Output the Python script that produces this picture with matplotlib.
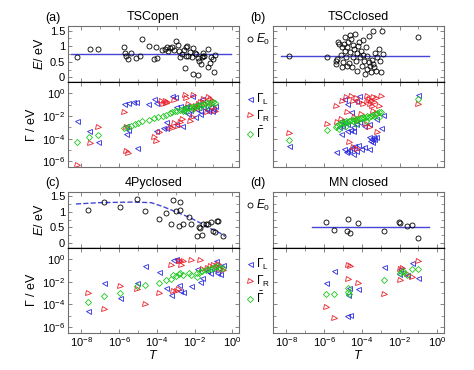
import numpy as np
import matplotlib
matplotlib.use('Agg')
import matplotlib.pyplot as plt
from matplotlib.ticker import FixedLocator, NullFormatter, FuncFormatter

plt.rcParams['font.family'] = ['Liberation Sans', 'DejaVu Sans']
plt.rcParams['mathtext.fontset'] = 'custom'
plt.rcParams['mathtext.rm'] = 'Liberation Sans'
plt.rcParams['mathtext.it'] = 'Liberation Sans:italic'
plt.rcParams['font.size'] = 8

# data: columns are log10(T) and value (E in eV, or log10(Gamma/eV))
titles = ['TSCopen', 'TSCclosed', '4Pyclosed', 'MN closed']
tags = ['(a)', '(b)', '(c)', '(d)']

# (a) TSCopen
a_E = np.array([[-8.23, 0.65], [-7.53, 0.90], [-7.09, 0.90], [-5.74, 0.96], [-5.69, 0.77], [-5.62, 0.67],
                [-5.55, 0.60], [-5.35, 0.77], [-5.09, 0.62], [-4.87, 0.67], [-4.77, 1.22], [-4.41, 1.0],
                [-4.17, 0.60], [-4.06, 0.97], [-3.99, 0.62], [-3.70, 0.89], [-3.54, 0.92], [-3.46, 0.96],
                [-3.40, 0.86], [-3.28, 0.94], [-3.17, 0.99], [-3.10, 0.88], [-2.96, 1.16], [-2.87, 1.05],
                [-2.82, 0.84], [-2.75, 0.64], [-2.69, 0.75], [-2.57, 0.88], [-2.52, 0.30], [-2.46, 0.67],
                [-2.43, 0.99], [-2.39, 1.02], [-2.34, 0.70], [-2.25, 0.80], [-2.16, 0.64], [-2.07, 0.94],
                [-2.07, 0.11], [-2.00, 0.79], [-1.84, 0.09], [-1.90, 0.75], [-1.81, 0.62], [-1.75, 0.51],
                [-1.68, 0.43], [-1.63, 0.64], [-1.58, 0.77], [-1.54, 0.70], [-1.51, 0.67], [-1.28, 0.91],
                [-1.28, 0.32], [-1.19, 0.45], [-1.15, 0.64], [-1.04, 0.59], [-0.97, 0.18], [-0.94, 0.72]])
a_fit = np.array([[-8.56, 0.75], [-0.08, 0.75]])
a_GL = np.array([[-8.23, -2.41], [-7.57, -3.35], [-7.09, -4.32], [-5.71, -0.94], [-5.53, -0.82], [-5.26, -0.79],
                 [-5.09, -0.73], [-4.47, -0.94], [-4.17, -0.5], [-4.06, -0.82], [-5.62, -2.85], [-5.53, -3.23],
                 [-5.65, -3.59], [-4.02, -3.29], [-5.05, -4.82], [-3.67, -3.06], [-3.49, -3.06], [-3.17, -0.21],
                 [-3.05, -0.29], [-2.96, -1.18], [-2.78, -1.09], [-2.60, -1.53], [-2.52, -1.24], [-2.43, -1.12],
                 [-2.34, -1.82], [-2.25, -1.47], [-2.16, -0.21], [-2.07, -1.24], [-1.90, -1.38], [-1.81, -0.94],
                 [-1.72, -1.59], [-1.63, -0.5], [-1.54, -1.18], [-1.40, -1.41], [-1.28, -1.53], [-1.19, -1.24],
                 [-1.10, -1.59], [-1.01, -1.38], [-0.92, -1.09], [-2.96, -2.70], [-2.69, -2.85], [-3.49, -2.56],
                 [-1.98, -2.12], [-1.72, -1.82]])
a_GR = np.array([[-8.23, -6.29], [-7.53, -4.35], [-7.09, -3.0], [-5.65, -3.0], [-5.62, -5.06], [-5.53, -5.29],
                 [-5.71, -1.68], [-4.17, -3.88], [-4.06, -4.23], [-3.88, -3.38], [-3.67, -0.94], [-3.58, -0.71],
                 [-3.49, -0.88], [-3.31, -3.0], [-3.22, -3.06], [-3.10, -2.65], [-3.10, -0.59], [-2.87, -2.85],
                 [-2.78, -2.56], [-2.69, -2.26], [-2.52, -0.12], [-2.43, -0.41], [-2.34, -0.94], [-2.25, -2.41],
                 [-2.16, -2.12], [-2.07, -0.12], [-1.98, -1.09], [-1.90, -1.38], [-1.81, -0.94], [-1.72, -0.79],
                 [-1.54, -0.5], [-1.45, -0.94], [-1.36, -1.68], [-1.28, -0.35], [-1.19, -0.5], [-1.10, -0.71],
                 [-1.01, -1.18], [-0.92, -1.53], [-3.76, -0.71], [-3.44, -0.79]])
a_G = np.array([[-8.23, -4.32], [-7.57, -3.88], [-7.09, -3.68], [-5.71, -3.06], [-5.53, -2.94], [-5.35, -2.85],
                [-5.18, -2.70], [-5.0, -2.62], [-4.77, -2.47], [-4.41, -2.32], [-4.17, -2.18], [-3.93, -2.12],
                [-3.67, -1.97], [-3.49, -1.88], [-3.31, -1.76], [-3.17, -1.68], [-3.05, -1.59], [-2.92, -1.53],
                [-2.78, -1.47], [-2.64, -1.38], [-2.52, -1.38], [-2.39, -1.32], [-2.29, -1.24], [-2.16, -1.18],
                [-2.04, -1.18], [-1.93, -1.09], [-1.81, -1.03], [-1.68, -1.0], [-1.54, -0.94], [-1.40, -0.88],
                [-1.28, -0.85], [-1.15, -0.82], [-1.01, -0.79], [-0.92, -0.88], [-2.60, -1.59], [-2.43, -1.53],
                [-2.07, -1.38], [-1.72, -1.24], [-1.36, -1.09]])

# (b) TSCclosed
b_E = np.array([[-7.83, 0.70], [-5.86, 0.64], [-1.00, 1.29], [-5.29, 0.59], [-5.24, 1.13], [-5.20, 1.07],
                [-5.38, 0.43], [-5.35, 0.51], [-5.11, 0.73], [-5.06, 0.96], [-5.03, 0.32], [-4.99, 0.48],
                [-4.94, 1.07], [-4.88, 0.86], [-4.85, 0.64], [-4.81, 0.37], [-4.76, 0.99], [-4.71, 1.13],
                [-4.67, 0.45], [-4.64, 0.80], [-4.58, 1.23], [-4.53, 0.32], [-4.49, 0.66], [-4.46, 1.05],
                [-4.41, 0.91], [-4.35, 1.39], [-4.32, 0.51], [-4.28, 0.77], [-4.23, 0.21], [-4.18, 1.01],
                [-4.14, 1.13], [-4.11, 0.64], [-4.05, 0.86], [-4.00, 0.37], [-3.96, 0.73], [-3.93, 1.20],
                [-3.87, 0.54], [-3.82, 0.11], [-3.79, 0.96], [-3.73, 0.27], [-3.70, 0.70], [-3.64, 1.34],
                [-3.61, 0.48], [-3.57, 0.37], [-3.52, 0.16], [-3.47, 0.56], [-3.43, 1.50], [-3.40, 0.43],
                [-3.34, 0.32], [-3.29, 0.77], [-3.25, 0.21], [-3.17, 0.64], [-3.08, 0.91], [-3.04, 0.54],
                [-2.99, 0.16], [-2.93, 1.50], [-2.90, 0.75], [-4.62, 1.37], [-4.88, 1.29]])
b_fit = np.array([[-8.29, 0.70], [-0.46, 0.70]])
b_GL = np.array([[-7.83, -4.68], [-1.00, -0.12], [-5.38, -5.21], [-5.11, -3.59], [-4.94, -4.91], [-4.85, -5.15],
                 [-4.76, -5.06], [-4.67, -5.0], [-4.58, -4.82], [-4.49, -5.35], [-4.41, -4.62], [-4.32, -5.06],
                 [-4.18, -4.53], [-4.05, -4.91], [-3.87, -4.76], [-3.61, -3.88], [-3.52, -4.03], [-3.43, -3.82],
                 [-3.34, -4.03], [-3.57, -4.18], [-3.47, -4.32], [-3.25, -3.88], [-3.64, -4.91], [-5.20, -3.0],
                 [-5.03, -2.85], [-4.94, -0.5], [-4.76, -0.94], [-4.58, -1.68], [-4.32, -0.65], [-4.14, -0.21],
                 [-5.11, -2.41], [-4.94, -2.56], [-4.76, -2.70], [-4.49, -3.0], [-4.32, -2.70], [-4.14, -2.56],
                 [-3.87, -2.85], [-3.61, -2.70], [-3.25, -2.26], [-2.99, -3.06], [-2.90, -1.88], [-4.81, -3.29],
                 [-4.64, -3.23], [-4.46, -3.35]])
b_GR = np.array([[-7.83, -3.53], [-1.00, -0.94], [-5.38, -1.09], [-5.86, -2.70], [-5.03, -0.65], [-4.85, -0.35],
                 [-4.58, -0.21], [-4.49, -0.65], [-4.32, -0.41], [-4.14, -0.79], [-3.96, -0.94], [-3.70, -0.21],
                 [-3.61, -0.5], [-3.52, -0.65], [-3.43, -0.35], [-3.34, -0.79], [-3.25, -0.41], [-3.57, -0.94],
                 [-3.47, -1.09], [-3.70, -0.71], [-2.99, -0.21], [-3.08, -1.09], [-3.79, -2.70], [-3.61, -3.0],
                 [-5.29, -2.56], [-5.11, -2.26], [-4.76, -1.68], [-4.41, -2.12], [-4.23, -2.41], [-4.05, -1.82],
                 [-3.17, -3.44], [-3.43, -1.53], [-3.25, -1.82], [-4.49, -4.76], [-4.23, -4.91], [-4.67, -4.32]])
b_G = np.array([[-7.83, -4.12], [-1.00, -0.53], [-5.86, -3.23], [-5.38, -3.0], [-5.29, -2.85], [-5.20, -2.70],
                [-5.11, -2.65], [-5.03, -2.56], [-4.94, -2.65], [-4.85, -2.47], [-4.76, -2.56], [-4.67, -2.41],
                [-4.58, -2.35], [-4.49, -2.47], [-4.41, -2.26], [-4.32, -2.35], [-4.23, -2.23], [-4.14, -2.29],
                [-4.05, -2.18], [-3.96, -2.12], [-3.87, -2.21], [-3.79, -2.06], [-3.70, -2.0], [-3.61, -2.12],
                [-3.52, -1.97], [-3.43, -1.88], [-3.34, -1.97], [-3.25, -1.82], [-3.17, -1.76], [-3.08, -1.68],
                [-2.99, -1.62], [-3.11, -2.12], [-5.20, -3.15], [-4.85, -2.85], [-4.32, -2.70], [-3.79, -2.41]])

# (c) 4Pyclosed
c_E = np.array([[-7.66, 1.07], [-6.81, 1.31], [-5.97, 1.17], [-5.03, 1.43], [-4.61, 1.02], [-3.90, 0.78],
                [-3.51, 0.96], [-3.26, 0.61], [-3.14, 1.38], [-2.96, 1.03], [-2.85, 0.55], [-2.78, 1.33],
                [-2.78, 1.05], [-2.64, 0.61], [-2.30, 0.84], [-2.21, 0.61], [-1.86, 0.24], [-1.75, 0.53],
                [-1.72, 0.48], [-1.63, 0.27], [-1.58, 0.61], [-1.40, 0.60], [-1.28, 0.60], [-1.15, 0.67],
                [-1.01, 0.40], [-0.92, 0.34], [-0.80, 0.71], [-0.74, 0.71], [-0.48, 0.22]])
c_fit = np.array([[-8.28, 1.255], [-7.04, 1.297], [-5.26, 1.317], [-4.29, 1.297], [-3.67, 1.17], [-2.96, 0.995],
                  [-2.25, 0.818], [-1.72, 0.652], [-1.19, 0.475], [-0.65, 0.319], [-0.39, 0.215]])
c_GL = np.array([[-7.66, -4.58], [-6.81, -2.09], [-5.97, -3.47], [-5.03, -2.09], [-4.61, -0.61], [-3.90, -1.14],
                 [-3.51, -2.59], [-3.26, -3.17], [-3.14, -0.09], [-2.96, -0.03], [-2.85, -2.32], [-2.78, -2.82],
                 [-2.64, -2.91], [-2.21, -2.38], [-1.86, -0.85], [-1.72, -2.03], [-1.63, -1.64], [-1.36, -1.06],
                 [-1.19, -1.26], [-1.01, -0.85], [-0.87, -0.17], [-0.80, -1.26], [-0.65, -1.35], [-0.48, -0.56],
                 [-0.74, -0.76]])
c_GR = np.array([[-7.66, -2.97], [-6.81, -4.44], [-5.97, -2.38], [-5.03, -2.67], [-4.61, -4.0], [-3.90, -3.03],
                 [-3.26, -0.56], [-3.14, -2.82], [-2.96, -2.82], [-2.85, -0.17], [-2.78, -0.17], [-2.64, -0.17],
                 [-2.21, -0.09], [-1.72, -0.09], [-1.63, -0.91], [-1.36, -0.76], [-1.19, -0.61], [-1.01, -0.56],
                 [-0.87, -0.61], [-0.74, -0.47], [-0.65, -0.85], [-0.48, -0.97], [-2.73, -0.56], [-2.87, -2.67]])
c_G = np.array([[-7.66, -3.76], [-6.81, -3.26], [-5.97, -2.97], [-5.03, -2.38], [-4.61, -2.32], [-3.90, -2.14],
                [-3.51, -1.85], [-3.26, -1.79], [-3.14, -1.44], [-2.96, -1.50], [-2.85, -1.35], [-2.78, -1.26],
                [-2.64, -1.44], [-2.30, -1.26], [-2.21, -1.44], [-1.86, -1.26], [-1.72, -1.14], [-1.63, -1.06],
                [-1.40, -0.97], [-1.28, -0.91], [-1.15, -0.85], [-1.01, -0.76], [-0.92, -0.67], [-0.80, -0.61],
                [-0.65, -0.76], [-0.48, -0.76], [-1.86, -1.56]])

# (d) MN closed
d_E = np.array([[-5.88, 0.683], [-5.47, 0.423], [-4.71, 0.787], [-4.76, 0.371], [-4.62, 0.319], [-4.20, 0.631],
                [-2.85, 0.371], [-2.03, 0.683], [-1.98, 0.631], [-1.63, 0.548], [-1.36, 0.569], [-1.04, 0.163]])
d_fit = np.array([[-6.63, 0.506], [-0.47, 0.506]])
d_GL = np.array([[-5.92, -2.08], [-5.47, -1.06], [-4.71, -3.20], [-4.76, -5.03], [-4.62, -4.97], [-4.20, -2.61],
                 [-2.85, -0.67], [-1.98, -0.85], [-2.03, -1.35], [-1.63, -1.44], [-1.36, -0.38], [-1.04, -1.64],
                 [-4.67, -2.53]])
d_GR = np.array([[-5.92, -4.20], [-5.47, -5.23], [-4.71, -0.53], [-4.62, -0.61], [-4.71, -1.79], [-4.20, -2.08],
                 [-2.85, -3.06], [-1.98, -1.85], [-1.98, -0.91], [-1.63, -1.35], [-1.36, -1.56], [-1.04, -0.17],
                 [-1.89, -0.76]])
d_G = np.array([[-5.92, -3.12], [-5.47, -3.12], [-4.71, -2.53], [-4.71, -2.91], [-4.67, -3.12], [-2.85, -1.88],
                [-1.98, -1.26], [-1.80, -1.06], [-1.63, -1.44], [-1.36, -0.91], [-1.04, -0.91], [-1.89, -1.14]])

panels = [(a_E, a_fit, a_GL, a_GR, a_G, '-'),
          (b_E, b_fit, b_GL, b_GR, b_G, '-'),
          (c_E, c_fit, c_GL, c_GR, c_G, '--'),
          (d_E, d_fit, d_GL, d_GR, d_G, '-')]

blue = '#2a2ae0'
red = '#e8202a'
green = '#1ec81e'
line_blue = '#4646d8'
spine_col = '#707070'

fig = plt.figure(figsize=(4.74, 3.70), dpi=100)

lefts = [68/474, 273/474, 68/474, 273/474]
w = 171/474
E_bot = [1-82/370, 1-82/370, 1-247.7/370, 1-247.7/370]
G_bot = [1-167/370, 1-167/370, 1-332.7/370, 1-332.7/370]
E_h = 56/370
G_h = 85/370

xlim = (10**-8.7, 10**0.35)
ms = 3.6

def pow_fmt(v, pos):
    e = int(round(np.log10(v)))
    return r'$10^{%d}$' % e

for i, (E, fit, GL, GR, G, ls) in enumerate(panels):
    axE = fig.add_axes([lefts[i], E_bot[i], w, E_h])
    axG = fig.add_axes([lefts[i], G_bot[i], w, G_h])

    axE.plot(10**fit[:, 0], fit[:, 1], ls=ls, color=line_blue, lw=1.0, zorder=1)
    hE, = axE.plot(10**E[:, 0], E[:, 1], 'o', mfc='none', mec='black', mew=0.6, ms=ms, label=r'$E_0$', zorder=2)

    hL, = axG.plot(10**GL[:, 0], 10**GL[:, 1], '<', mfc='none', mec=blue, mew=0.6, ms=ms, label=r'$\Gamma_{\rm L}$')
    hR, = axG.plot(10**GR[:, 0], 10**GR[:, 1], '>', mfc='none', mec=red, mew=0.6, ms=ms, label=r'$\Gamma_{\rm R}$')
    hG, = axG.plot(10**G[:, 0], 10**G[:, 1], 'D', mfc='none', mec=green, mew=0.6, ms=3.1, label=r'$\bar{\Gamma}$')

    for ax in (axE, axG):
        ax.set_xscale('log')
        ax.set_xlim(xlim)
        ax.xaxis.set_major_locator(FixedLocator([1e-8, 1e-6, 1e-4, 1e-2, 1e0]))
        ax.xaxis.set_minor_locator(FixedLocator([1e-9, 1e-7, 1e-5, 1e-3, 1e-1, 1e1]))
        ax.xaxis.set_minor_formatter(NullFormatter())
        ax.tick_params(which='both', direction='in', top=True, right=True, colors=spine_col,
                       labelcolor='black', labelsize=8, pad=2)
        ax.tick_params(which='major', length=3, width=0.6)
        ax.tick_params(which='minor', length=2, width=0.5)
        for s in ax.spines.values():
            s.set_color(spine_col)
            s.set_linewidth(0.8)
    axE.spines['bottom'].set_color('black')
    axG.spines['top'].set_color('black')
    axE.spines['bottom'].set_linewidth(1.0)

    axE.set_ylim(-0.15, 1.65)
    axE.yaxis.set_major_locator(FixedLocator([0, 0.5, 1, 1.5]))
    axE.yaxis.set_minor_locator(FixedLocator([-0.25, 0.25, 0.75, 1.25]))
    axE.yaxis.set_major_formatter(FuncFormatter(lambda v, p: '%g' % v))
    axE.tick_params(labelbottom=False)

    axG.set_yscale('log')
    axG.set_ylim(10**-6.5, 10**1)
    axG.yaxis.set_major_locator(FixedLocator([1e-6, 1e-4, 1e-2, 1e0]))
    axG.yaxis.set_minor_locator(FixedLocator([1e-7, 1e-5, 1e-3, 1e-1, 1e1]))
    axG.yaxis.set_minor_formatter(NullFormatter())
    axG.yaxis.set_major_formatter(FuncFormatter(pow_fmt))
    axG.xaxis.set_major_formatter(FuncFormatter(pow_fmt))

    if i in (1, 3):
        axE.tick_params(labelleft=False)
        axG.tick_params(labelleft=False)
    else:
        axE.set_ylabel(r'$E$/ eV', fontsize=9, labelpad=3)
        axG.set_ylabel(r'$\Gamma$ / eV', fontsize=9, labelpad=3)
        axE.legend(handles=[hE], loc='upper left', bbox_to_anchor=(1.0, 1.02), frameon=False,
                   handlelength=0.6, handletextpad=0.2, borderaxespad=0.2, fontsize=8.5)
        axG.legend(handles=[hL, hR, hG], loc='upper left', bbox_to_anchor=(1.0, 0.97), frameon=False,
                   handlelength=0.6, handletextpad=0.2, borderaxespad=0.2, labelspacing=0.15, fontsize=8.5)
    if i in (0, 1):
        axG.tick_params(labelbottom=False)
    else:
        axG.set_xlabel(r'$T$', fontsize=9, labelpad=0)

    axE.set_title(titles[i], fontsize=9, pad=4)
    axE.text(-0.09, 1.04, tags[i], transform=axE.transAxes, ha='center', va='bottom', fontsize=9)

fig.savefig('out.png', dpi=100)
